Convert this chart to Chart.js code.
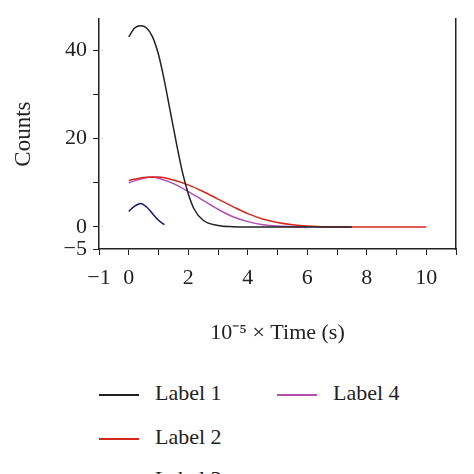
<!DOCTYPE html>
<html lang="en">
<head>
  <meta charset="UTF-8">
  <script src="https://cdn.jsdelivr.net/npm/chart.js"></script>
  <style>
    body { margin: 0; background: #fff; width: 474px; height: 474px; overflow: hidden; position: relative; font-family: "Liberation Serif", serif; }
    #wrap { position: absolute; left: 0; top: 0; width: 474px; height: 350px; }
    .leg { position: absolute; font-size: 22px; color: #222; white-space: nowrap; }
    .leg span { display: inline-block; width: 40px; height: 2px; vertical-align: middle; margin-right: 16px; }
  </style>
</head>
<body>
  <div id="wrap"><canvas id="c"></canvas></div>
  <div class="leg" style="left:99px;top:380px"><span style="background:#222"></span>Label 1</div>
  <div class="leg" style="left:277px;top:380px"><span style="background:#b34fb3"></span>Label 4</div>
  <div class="leg" style="left:99px;top:424px"><span style="background:#d4281c"></span>Label 2</div>
  <div class="leg" style="left:99px;top:466px"><span style="background:#1a1a6e"></span>Label 3</div>
  <script>
    const x1 = [0, 0.2, 0.4, 0.6, 0.8, 1.0, 1.2, 1.4, 1.6, 1.8, 2.0, 2.2, 2.5, 3.0, 3.5, 4.0, 5.0, 6.0, 7.5];
    const y1 = [43, 45, 45.5, 45, 43, 39, 33, 26, 19, 12.5, 7.5, 4, 1.5, 0.3, 0.05, 0, 0, 0, 0];
    const x2 = [0, 0.5, 1.0, 1.5, 2.0, 2.5, 3.0, 3.5, 4.0, 4.5, 5.0, 5.5, 6.0, 7.0, 8.0, 10.0];
    const y2 = [10.5, 11.2, 11.3, 10.6, 9.5, 8, 6.3, 4.6, 3, 1.8, 1, 0.5, 0.2, 0, 0, 0];
    const x3 = [0, 0.2, 0.4, 0.6, 0.8, 1.0, 1.2];
    const y3 = [3.5, 4.7, 5.3, 4.5, 3, 1.5, 0.5];
    const x4 = [0, 0.5, 0.8, 1.0, 1.5, 2.0, 2.5, 3.0, 3.5, 4.0, 4.5, 5.0, 6.0];
    const y4 = [10, 11, 11.3, 11, 9.8, 8, 6, 4, 2.3, 1.2, 0.5, 0.2, 0];
    const yTicks = [-5, 0, 10, 20, 30, 40];
    const yLabels = [-5, 0, 20, 40];
    const xLabels = [-1, 0, 2, 4, 6, 8, 10];

    const pts = (xs, ys) => xs.map((x, i) => ({ x: x, y: ys[i] }));
    const font = { family: 'Liberation Serif', size: 22 };
    const line = (label, xs, ys, color) => ({
      label, data: pts(xs, ys), borderColor: color, borderWidth: 1.5,
      pointRadius: 0, tension: 0.4, cubicInterpolationMode: 'monotone', fill: false
    });

    new Chart(document.getElementById('c'), {
      type: 'line',
      data: {
        datasets: [
          line('Label 1', x1, y1, '#222222'),
          line('Label 2', x2, y2, '#d4281c'),
          line('Label 3', x3, y3, '#1a1a6e'),
          line('Label 4', x4, y4, '#b34fb3')
        ]
      },
      options: {
        responsive: true, maintainAspectRatio: false, animation: false,
        layout: { padding: { top: -16 } },
        plugins: { legend: { display: false }, tooltip: { enabled: false } },
        scales: {
          x: {
            type: 'linear', min: -1, max: 11,
            afterBuildTicks: s => { s.ticks = []; for (let v = -1; v <= 11; v++) s.ticks.push({ value: v }); },
            afterFit: s => { s.height = 101; },
            ticks: { color: '#222', font, padding: 10, maxRotation: 0, autoSkip: false,
              callback: v => xLabels.includes(v) ? (v < 0 ? '\u2212' + Math.abs(v) : v) : '' },
            grid: { drawOnChartArea: false, tickLength: 6, color: '#222' },
            border: { color: '#222', width: 1.5 },
            title: { display: true, text: '10\u207B\u2075 \u00D7 Time (s)', color: '#222', font: { family: 'Liberation Serif', size: 22 }, padding: { top: 14 } }
          },
          y: {
            min: -5, max: 47,
            afterBuildTicks: s => { s.ticks = yTicks.map(v => ({ value: v })); },
            afterFit: s => { s.width = 99; },
            ticks: { color: '#222', font, padding: 6, autoSkip: false,
              callback: v => yLabels.includes(v) ? (v < 0 ? '\u2212' + Math.abs(v) : v) : '' },
            grid: { drawOnChartArea: false, tickLength: 6, color: '#222' },
            border: { color: '#222', width: 1.5 },
            title: { display: true, text: 'Counts', color: '#222', font: { family: 'Liberation Serif', size: 23 }, padding: { top: 10, bottom: 0 } }
          },
          yr: {
            position: 'right', min: -5, max: 47,
            afterFit: s => { s.width = 18; },
            ticks: { display: false },
            grid: { display: false },
            border: { color: '#222', width: 1.5 }
          }
        }
      }
    });
  </script>
</body>
</html>
